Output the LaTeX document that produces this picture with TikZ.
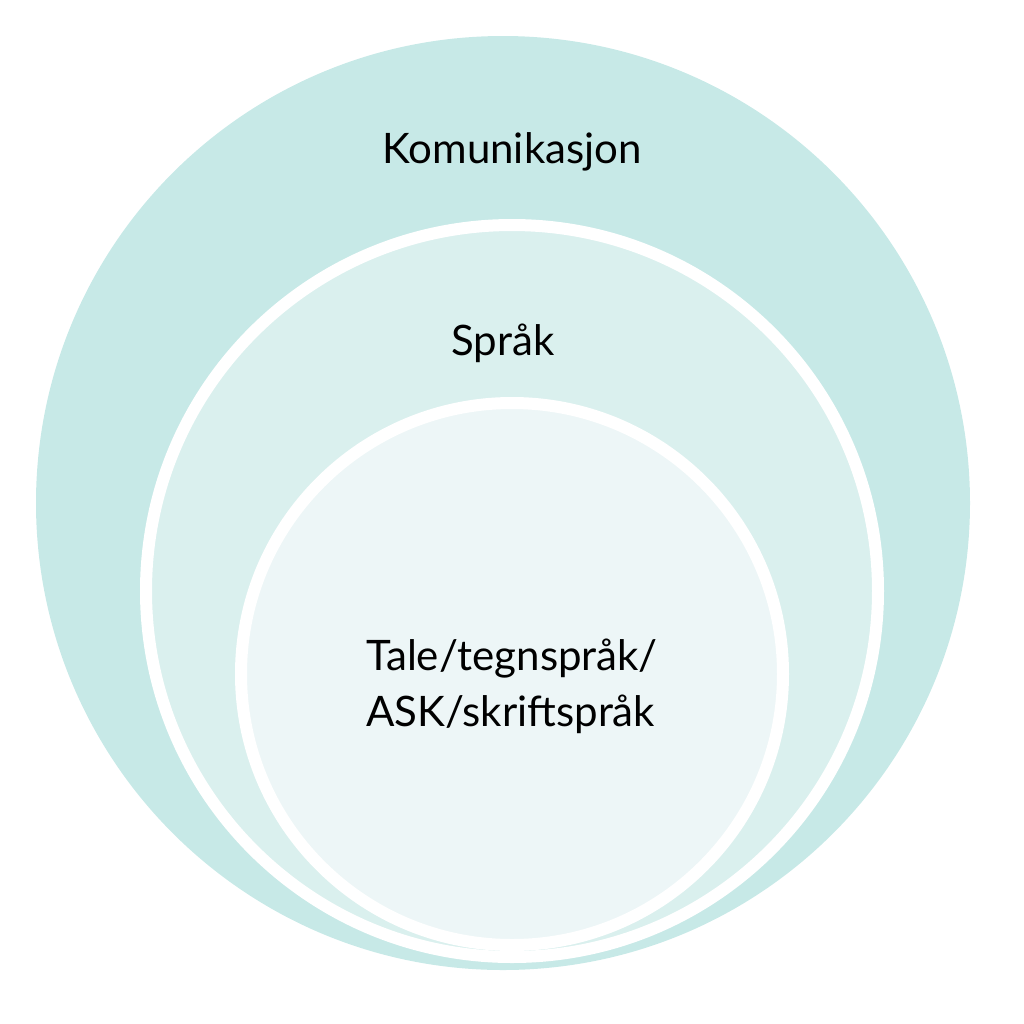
\documentclass[tikz,border=0pt]{standalone}
\usepackage{fontspec}
\setmainfont{Lato}
\definecolor{outerteal}{RGB}{199,233,231}
\definecolor{midteal}{RGB}{218,240,238}
\definecolor{innerteal}{RGB}{237,246,247}
\tikzset{ring/.style={draw=white, line width=6pt},
  label text/.style={font=\fontsize{21}{28}\selectfont}}
\begin{document}
\begin{tikzpicture}[x=0.5pt,y=-0.5pt]
\useasboundingbox (0,0) rectangle (1024,1024);

\fill[outerteal] (503,503) circle[radius=467];
\filldraw[ring, fill=midteal] (512,591) circle[radius=366];
\filldraw[ring, fill=innerteal] (512,674) circle[radius=271];

\node[label text] (kom) at (512,152) {Komunikasjon};
\node[label text] (sprak) at (503,343) {Språk};
\node[label text, align=left] (tale) at (512,686) {Tale/tegnspråk/\\ASK/skriftspråk};
\end{tikzpicture}
\end{document}
